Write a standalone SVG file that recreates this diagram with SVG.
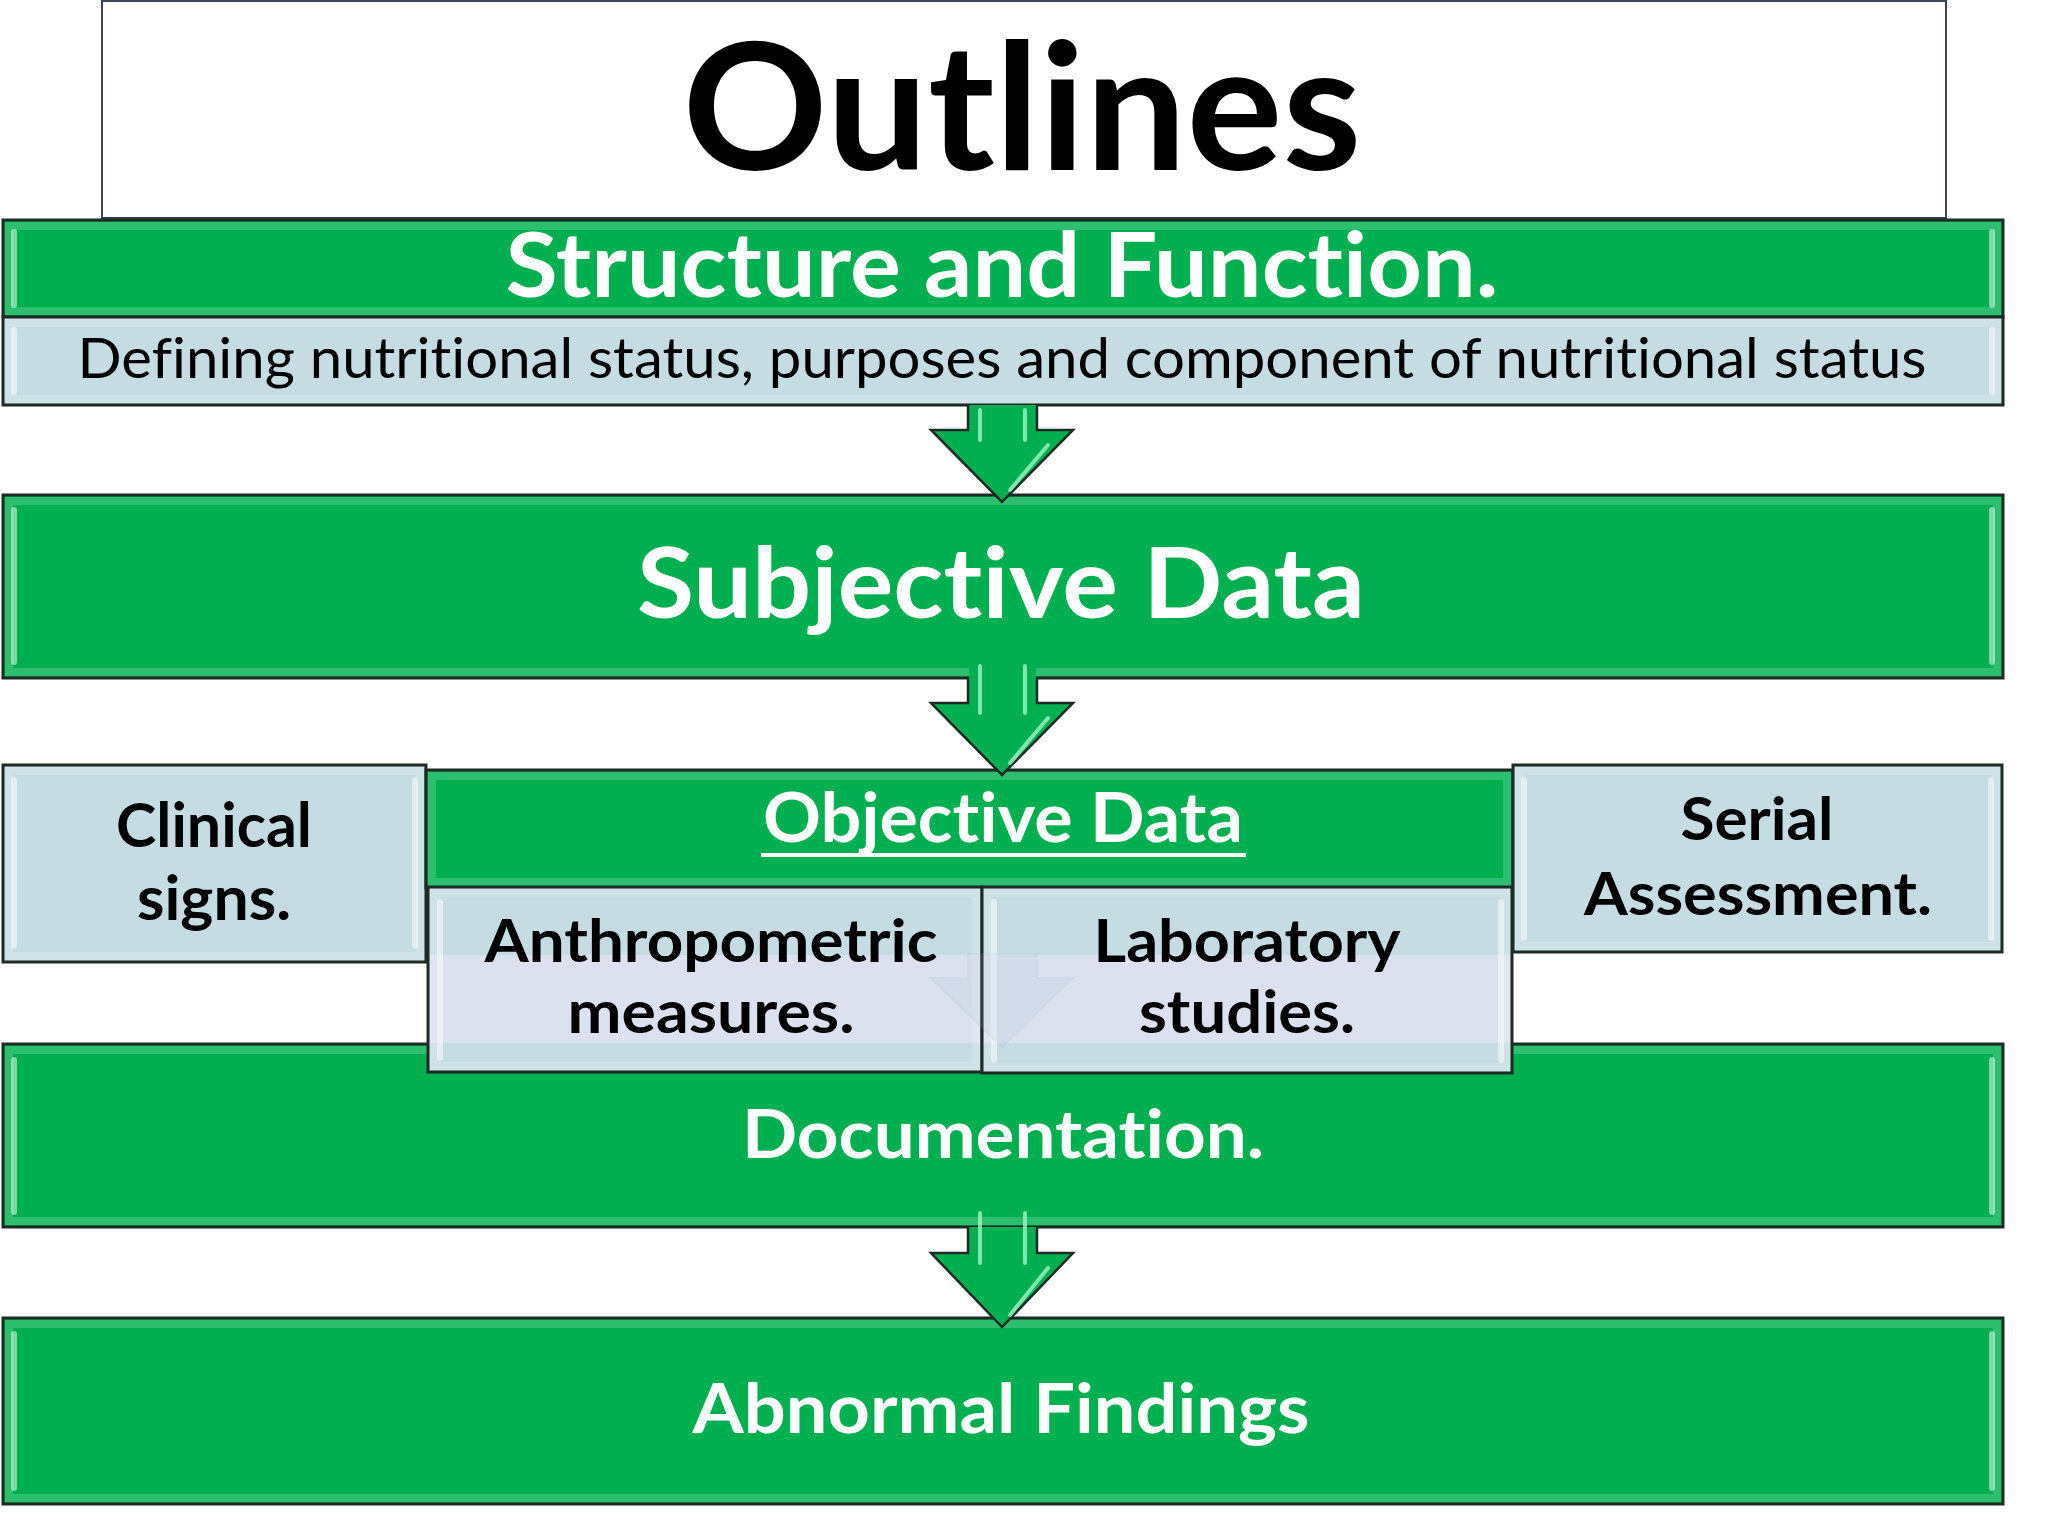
<svg xmlns="http://www.w3.org/2000/svg" width="2048" height="1536" viewBox="0 0 2048 1536">
  <defs>
    <style>
      text { font-variant-ligatures: none; }
      .green { fill: #00B050; stroke: #1f2a24; stroke-width: 3; }
      .blue { fill: #C5DCE3; stroke: #1f2a24; stroke-width: 3; }
      .bevel { fill: none; stroke: #ffffff; stroke-opacity: 0.18; stroke-width: 8; }
      .edge { fill: none; stroke: #ffffff; stroke-opacity: 0.5; stroke-width: 6; stroke-linecap: round; }
      .wt { fill: #ffffff; font-family: Lato, "Open Sans", "Liberation Sans", sans-serif; font-weight: bold; text-anchor: middle; }
      .bk { fill: #000000; font-family: Lato, "Open Sans", "Liberation Sans", sans-serif; font-weight: bold; text-anchor: middle; }
      .arrow { fill: #00B050; stroke: #1f2a24; stroke-width: 2.5; stroke-linejoin: miter; }
      .ahl { fill: none; stroke: #9ff5c4; stroke-opacity: 0.8; stroke-width: 4; stroke-linecap: round; }
    </style>
  </defs>
  <rect x="0" y="0" width="2048" height="1536" fill="#ffffff"/>

  <g id="title">
    <rect x="102" y="1" width="1844" height="217" fill="#ffffff" stroke="#3b4656" stroke-width="2"/>
    <text x="1022" y="170" font-family="Lato, 'Open Sans', 'Liberation Sans', sans-serif" font-weight="bold" font-size="176" text-anchor="middle" textLength="679" lengthAdjust="spacingAndGlyphs" fill="#000">Outlines</text>
  </g>

  <g id="structure">
    <rect class="green" x="3" y="220" width="2000" height="97"/>
    <rect class="bevel" x="9" y="226" width="1988" height="85"/>
    <line class="edge" x1="14" y1="232" x2="14" y2="305"/>
    <line class="edge" x1="1992" y1="232" x2="1992" y2="305"/>
    <text class="wt" x="1002" y="297" font-size="89" textLength="993" lengthAdjust="spacingAndGlyphs">Structure and Function.</text>
    <rect class="blue" x="3" y="317" width="2000" height="88"/>
    <rect class="bevel" x="9" y="323" width="1988" height="76"/>
    <line class="edge" x1="14" y1="330" x2="14" y2="392"/>
    <line class="edge" x1="1992" y1="330" x2="1992" y2="392"/>
    <text x="1002" y="378" font-family="Lato, 'Open Sans', 'Liberation Sans', sans-serif" font-size="56" text-anchor="middle" textLength="1849" lengthAdjust="spacingAndGlyphs" fill="#000">Defining nutritional status, purposes and component of nutritional status</text>
  </g>

  <g id="subjective">
    <rect class="green" x="3" y="495" width="2000" height="183"/>
    <rect class="bevel" x="9" y="501" width="1988" height="171"/>
    <line class="edge" x1="14" y1="510" x2="14" y2="662"/>
    <line class="edge" x1="1992" y1="510" x2="1992" y2="662"/>
    <text class="wt" x="1001" y="618" font-size="98" textLength="728" lengthAdjust="spacingAndGlyphs">Subjective Data</text>
  </g>

  <g id="clinical">
    <rect class="blue" x="3" y="765" width="423" height="197"/>
    <rect class="bevel" x="9" y="771" width="411" height="185"/>
    <line class="edge" x1="14" y1="780" x2="14" y2="946"/>
    <line class="edge" x1="415" y1="780" x2="415" y2="946"/>
    <text class="bk" x="214" y="847" font-size="61" textLength="196" lengthAdjust="spacingAndGlyphs">Clinical</text>
    <text class="bk" x="214" y="920" font-size="61" textLength="154" lengthAdjust="spacingAndGlyphs">signs.</text>
  </g>

  <g id="objective">
    <rect class="green" x="426" y="770" width="1087" height="118"/>
    <rect class="bevel" x="432" y="776" width="1075" height="106"/>
    <text class="wt" x="1003" y="842" font-size="68" textLength="480" lengthAdjust="spacingAndGlyphs">Objective Data</text>
    <rect x="761" y="853" width="485" height="4" fill="#ffffff"/>
  </g>

  <g id="documentation">
    <rect class="green" x="3" y="1044" width="2000" height="183"/>
    <rect class="bevel" x="9" y="1050" width="1988" height="171"/>
    <line class="edge" x1="14" y1="1060" x2="14" y2="1212"/>
    <line class="edge" x1="1992" y1="1060" x2="1992" y2="1212"/>
    <text class="wt" x="1003" y="1158" font-size="67" textLength="522" lengthAdjust="spacingAndGlyphs">Documentation.</text>
  </g>

  <g id="anthropometric">
    <rect class="blue" x="428" y="887" width="554" height="185"/>
    <rect x="430" y="955" width="550" height="88" fill="#DCE1F0"/>
    <rect class="bevel" x="434" y="893" width="542" height="173"/>
    <line class="edge" x1="440" y1="902" x2="440" y2="1058"/>
    <text class="bk" x="711" y="962" font-size="59" textLength="453" lengthAdjust="spacingAndGlyphs">Anthropometric</text>
    <text class="bk" x="711" y="1033" font-size="59" textLength="287" lengthAdjust="spacingAndGlyphs">measures.</text>
  </g>

  <g id="laboratory">
    <rect class="blue" x="982" y="887" width="530" height="186"/>
    <rect x="984" y="955" width="526" height="88" fill="#DCE1F0"/>
    <rect class="bevel" x="988" y="893" width="518" height="174"/>
    <line class="edge" x1="994" y1="902" x2="994" y2="1060"/>
    <line class="edge" x1="1501" y1="902" x2="1501" y2="1060"/>
    <text class="bk" x="1247" y="962" font-size="59" textLength="307" lengthAdjust="spacingAndGlyphs">Laboratory</text>
    <text class="bk" x="1247" y="1033" font-size="59" textLength="216" lengthAdjust="spacingAndGlyphs">studies.</text>
  </g>

  <g id="serial">
    <rect class="blue" x="1513" y="765" width="489" height="187"/>
    <rect class="bevel" x="1519" y="771" width="477" height="175"/>
    <line class="edge" x1="1524" y1="780" x2="1524" y2="938"/>
    <line class="edge" x1="1991" y1="780" x2="1991" y2="938"/>
    <text class="bk" x="1757" y="840" font-size="59" textLength="153" lengthAdjust="spacingAndGlyphs">Serial</text>
    <text class="bk" x="1758" y="915" font-size="59" textLength="348" lengthAdjust="spacingAndGlyphs">Assessment.</text>
  </g>

  <g id="abnormal">
    <rect class="green" x="3" y="1318" width="2000" height="186"/>
    <rect class="bevel" x="9" y="1324" width="1988" height="174"/>
    <line class="edge" x1="14" y1="1334" x2="14" y2="1488"/>
    <line class="edge" x1="1992" y1="1334" x2="1992" y2="1488"/>
    <text class="wt" x="1001" y="1433" font-size="69" textLength="617" lengthAdjust="spacingAndGlyphs">Abnormal Findings</text>
  </g>

  <g id="connectors">
    <g id="arrow1">
      <path class="arrow" d="M968,405 L968,430 L931,430 L1002,502 L1073,430 L1037,430 L1037,405"/>
      <line class="ahl" x1="980" y1="410" x2="980" y2="440"/>
      <line class="ahl" x1="1025" y1="410" x2="1025" y2="440"/>
      <line class="ahl" x1="1048" y1="445" x2="1010" y2="490"/>
    </g>
    <g id="arrow2">
      <rect x="969" y="664" width="67" height="16" fill="#00B050"/>
      <path class="arrow" d="M968,678 L968,703 L931,703 L1002,775 L1073,703 L1037,703 L1037,678"/>
      <line class="ahl" x1="980" y1="666" x2="980" y2="713"/>
      <line class="ahl" x1="1025" y1="666" x2="1025" y2="713"/>
      <line class="ahl" x1="1048" y1="718" x2="1010" y2="763"/>
    </g>
    <g id="arrow3" opacity="0.15">
      <path d="M968,953 L968,978 L931,978 L1002,1047 L1073,978 L1037,978 L1037,953" fill="#9fbccb" stroke="#8aa6b5" stroke-width="2"/>
    </g>
    <g id="arrow4">
      <path class="arrow" d="M968,1227 L968,1253 L931,1253 L1002,1327 L1073,1253 L1037,1253 L1037,1227"/>
      <line class="ahl" x1="980" y1="1213" x2="980" y2="1263"/>
      <line class="ahl" x1="1025" y1="1213" x2="1025" y2="1263"/>
      <line class="ahl" x1="1048" y1="1268" x2="1010" y2="1315"/>
    </g>
  </g>
</svg>
